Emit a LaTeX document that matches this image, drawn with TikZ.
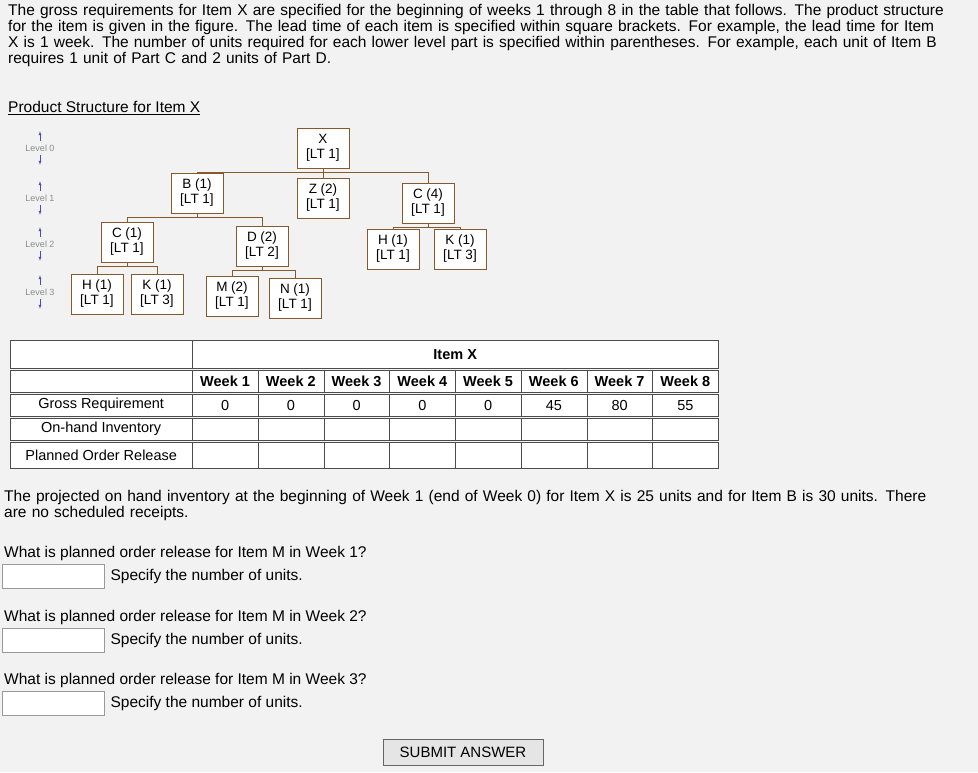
\documentclass[tikz,border=0pt]{standalone}
\usepackage{fontspec}
\setmainfont{Liberation Sans}
\hyphenpenalty=10000
\begin{document}
\begin{tikzpicture}[x=1pt,y=-1pt,
  part/.style={draw=brown!70!black,thick,fill=white,minimum width=52pt,minimum height=40pt,align=center,font=\fontsize{13.5}{15}\selectfont,inner sep=1pt},
  link/.style={brown!70!black,thick},
  cell/.style={draw=black!70,fill=white,minimum height=22pt,inner sep=1pt,font=\fontsize{14.5}{15}\selectfont},
  txt/.style={anchor=north west,align=left,inner sep=0pt,font=\fontsize{15.5}{16}\selectfont},
  lvl/.style={font=\fontsize{9}{10}\selectfont,text=black!45},
  ibox/.style={draw=black!40,fill=white,minimum width=102pt,minimum height=24pt,inner sep=0pt}]
\useasboundingbox[fill=black!5] (0,0) rectangle (978,772);
\node[txt,text width=955pt] (intro) at (8,4) {The gross requirements for Item X are specified for the beginning of weeks 1 through 8 in the table that follows. The product structure for the item is given in the figure. The lead time of each item is specified within square brackets. For example, the lead time for Item X is 1 week. The number of units required for each lower level part is specified within parentheses. For example, each unit of Item B requires 1 unit of Part C and 2 units of Part D.};
\node[txt] (title) at (8,101) {\underline{Product Structure for Item X}};
% levels
\foreach \l/\y in {0/148,1/198,2/244,3/292}{
  \node[lvl] (lv\l) at (40,\y) {Level \l};
  \draw[-latex,blue!40!gray] (lv\l.north) -- ++(0,-10);
  \draw[-latex,blue!40!gray] (lv\l.south) -- ++(0,10);
}
% parts
\node[part] (X) at (323,148) {X\\{}[LT 1]};
\node[part] (B) at (197,193) {B (1)\\{}[LT 1]};
\node[part] (Z) at (323,198) {Z (2)\\{}[LT 1]};
\node[part] (C4) at (428,203) {C (4)\\{}[LT 1]};
\node[part] (C1) at (127,242) {C (1)\\{}[LT 1]};
\node[part] (D) at (262,246) {D (2)\\{}[LT 2]};
\node[part] (H2) at (393,249) {H (1)\\{}[LT 1]};
\node[part] (K2) at (460,249) {K (1)\\{}[LT 3]};
\node[part] (H1) at (97,294) {H (1)\\{}[LT 1]};
\node[part] (K1) at (157,294) {K (1)\\{}[LT 3]};
\node[part] (M) at (232,296) {M (2)\\{}[LT 1]};
\node[part] (N) at (295,298) {N (1)\\{}[LT 1]};
\foreach \p/\a/\b/\c in {X/B/Z/C4,B/C1/C1/D,C4/H2/H2/K2,C1/H1/H1/K1,D/M/M/N}{
  \draw[link] (\p.south) -- ++(0,4) coordinate (j\p);
  \foreach \ch in {\a,\b,\c}{\draw[link] (j\p) -| (\ch.north);}
}
% table
\node[cell,minimum width=182pt,minimum height=28pt,anchor=north west] (blank) at (10,340) {};
\node[cell,minimum width=526pt,minimum height=28pt,anchor=north west,font=\bfseries\fontsize{14.5}{15}\selectfont] (item) at (192,340) {Item X};
\node[cell,minimum width=182pt,anchor=north west] (wlab) at (10,370) {};
\node[cell,minimum width=182pt,anchor=north west] (gr) at (10,394) {Gross Requirement};
\node[cell,minimum width=182pt,anchor=north west] (oh) at (10,418) {On-hand Inventory};
\node[cell,minimum width=182pt,minimum height=26pt,anchor=north west] (po) at (10,442) {Planned Order Release};
\foreach \i/\g in {1/0,2/0,3/0,4/0,5/0,6/45,7/80,8/55}{
  \pgfmathsetmacro\xx{192+(\i-1)*65.75}
  \node[cell,minimum width=65.75pt,anchor=north west,font=\bfseries\fontsize{14.5}{15}\selectfont] (w\i) at (\xx,370) {Week \i};
  \node[cell,minimum width=65.75pt,anchor=north west] (g\i) at (\xx,394) {\g};
  \node[cell,minimum width=65.75pt,anchor=north west] (o\i) at (\xx,418) {};
  \node[cell,minimum width=65.75pt,minimum height=26pt,anchor=north west] (p\i) at (\xx,442) {};
}
\node[txt,text width=935pt] (note) at (4,490) {The projected on hand inventory at the beginning of Week 1 (end of Week 0) for Item X is 25 units and for Item B is 30 units. There are no scheduled receipts.};
\foreach \q/\y in {1/546,2/610,3/673}{
  \node[txt] (q\q) at (4,\y) {What is planned order release for Item M in Week \q?};
  \node[ibox,anchor=north west] (a\q) at (2,\y+18) {};
  \node[txt,anchor=west] (s\q) at ([xshift=6pt]a\q.east) {Specify the number of units.};
}
\node[draw=black!60,fill=black!10,minimum width=160pt,minimum height=26pt,font=\fontsize{15}{16}\selectfont] (submit) at (463,752) {SUBMIT ANSWER};
\end{tikzpicture}
\end{document}
